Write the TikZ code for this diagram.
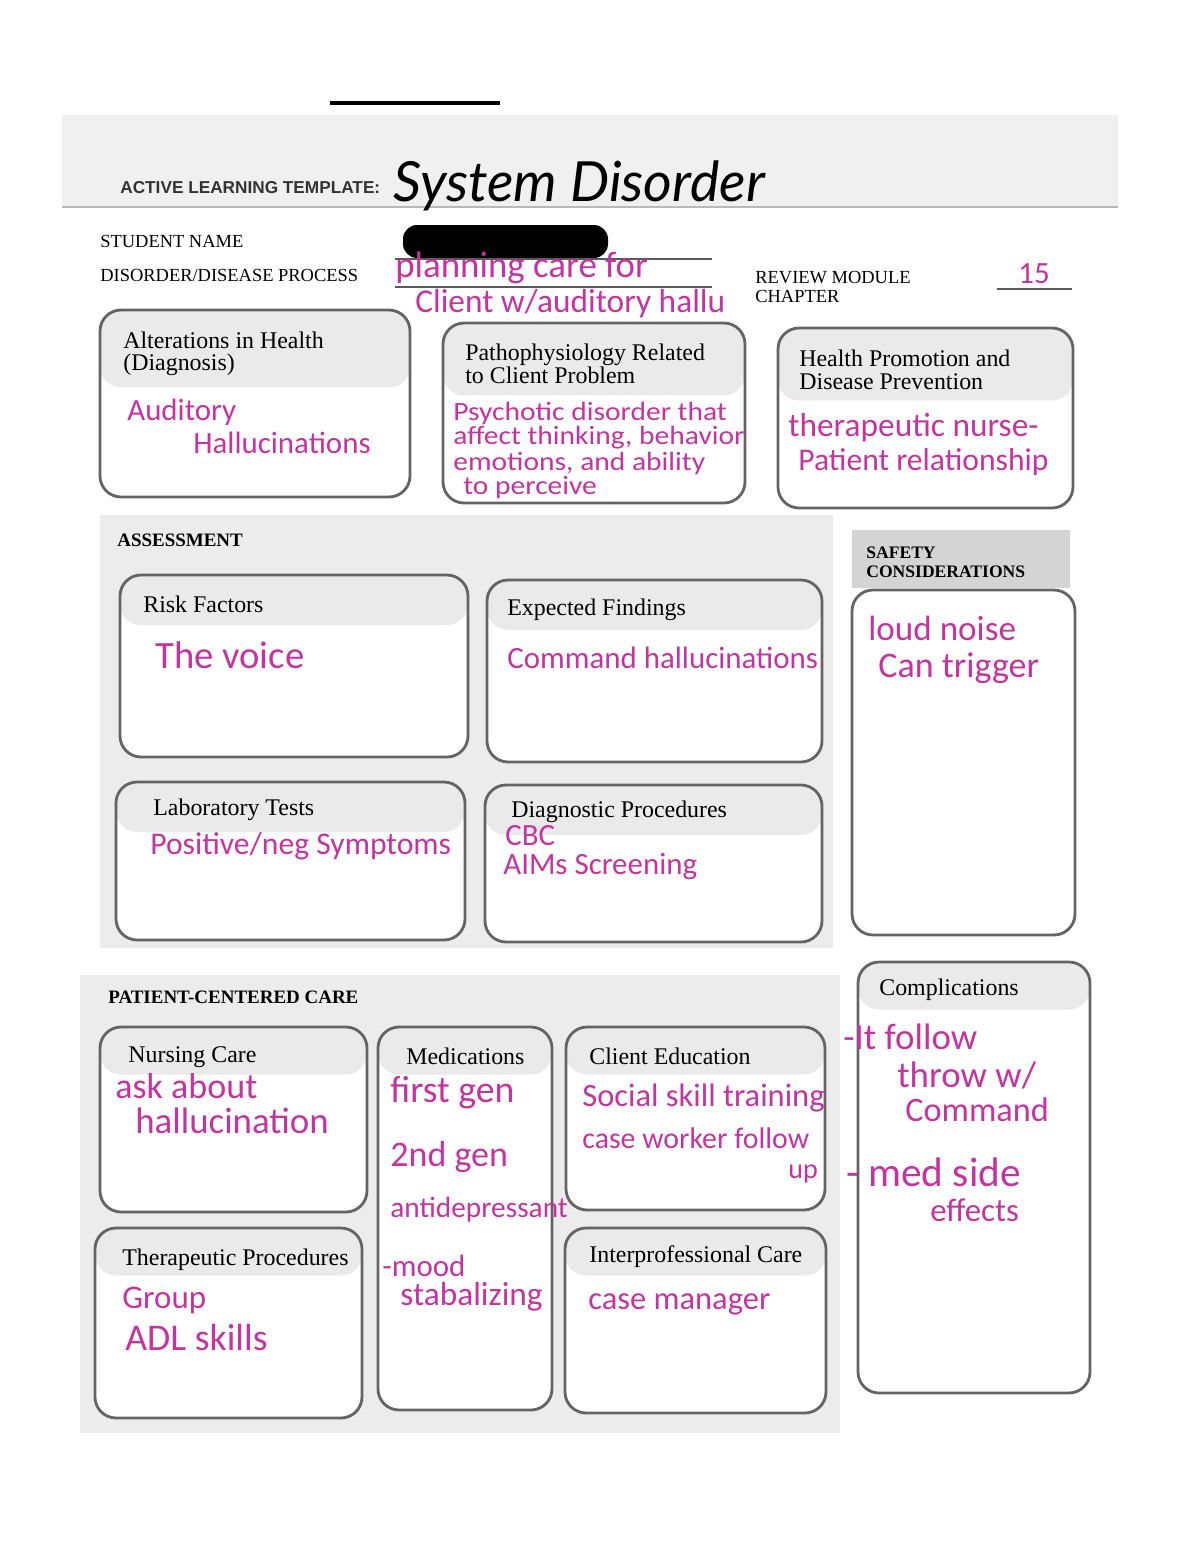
\documentclass[tikz,border=0pt]{standalone}
\usepackage{fontspec}
\usepackage{graphicx}
\usepackage{xcolor}
\usepackage{tikz}
\usetikzlibrary{fit, positioning}
\setmainfont{Liberation Serif}
\newfontfamily\headfont{Liberation Sans}
\newfontfamily\titlefont{Lato}
\newfontfamily\handfont{Carlito}
\definecolor{ink}{RGB}{196,52,160}
\definecolor{boxgray}{RGB}{100,100,100}
\definecolor{hdrgray}{RGB}{234,234,234}
\definecolor{panelgray}{RGB}{236,236,236}
\newcommand{\hw}[2][17.6]{{\handfont\fontsize{#1}{#1}\selectfont\color{ink}#2}}

\begin{document}
\begin{tikzpicture}[
    x=0.02cm, y=-0.02cm,
    formbox/.style={draw=boxgray, line width=1.6pt, rounded corners=12pt, fill=white, inner sep=0pt},
    hdr/.style={path picture={\fill[hdrgray] (path picture bounding box.north west) rectangle ([yshift=-#1]path picture bounding box.north east);}},
    title/.style={anchor=west, inner sep=0pt, align=left, font=\fontsize{13.6}{12.8}\selectfont},
    label/.style={anchor=west, inner sep=0pt, align=left, font=\bfseries\fontsize{10.8}{12}\selectfont},
    field/.style={anchor=west, inner sep=0pt, font=\fontsize{10.5}{12}\selectfont},
    hand/.style={anchor=west, inner sep=0pt}
  ]
  \useasboundingbox (0,0) rectangle (1200,1553);
  \fill[white] (0,0) rectangle (1200,1553);

  % header band
  \draw[black, line width=2pt] (330,103) -- (500,103);
  \fill[gray!12] (62,115) rectangle (1118,207);
  \draw[gray!55, line width=1pt] (62,207) -- (1118,207);
  \node[anchor=west, inner sep=0pt, font=\headfont\bfseries\fontsize{9.8}{10}\selectfont, text=black!80] (alt) at (120,188) {ACTIVE LEARNING TEMPLATE:};
  \node[anchor=west, inner sep=0pt, font=\titlefont\itshape\fontsize{31.5}{32}\selectfont] (sysdis) at (393,186) {System Disorder};

  % student fields
  \node[field] (sname) at (100,241) {STUDENT NAME};
  \node[field] (dproc) at (100,275) {DISORDER/DISEASE PROCESS};
  \fill[black, rounded corners=8pt] (403,225) rectangle (608,258);
  \draw[gray!70!black, line width=0.8pt] (395,259) -- (712,259);
  \draw[gray!70!black, line width=0.8pt] (395,287) -- (712,287);
  \node[hand] (proc1) at (395,268) {\hw[21]{planning care for}};
  \node[hand] (proc2) at (415,304) {\hw[19]{Client w/auditory hallu}};
  \node[field, align=left, font=\fontsize{10.5}{11}\selectfont] (rmod) at (755,287) {REVIEW MODULE\\CHAPTER};
  \draw[gray!70!black, line width=0.8pt] (997,289) -- (1072,289);
  \node[hand] (chap) at (1018,274) {\hw{15}};

  % top row
  \node[formbox, hdr=1.55cm, fit={(100,310) (410,497)}] (diag) {};
  \node[title] at (123,354) {Alterations in Health\\(Diagnosis)};
  \node[hand] at (127,412) {\hw{Auditory}};
  \node[hand] at (193,443) {\hw{Hallucinations}};

  \node[formbox, hdr=1.45cm, fit={(443,323) (745,503)}] (patho) {};
  \node[title] at (465,364) {Pathophysiology Related\\to Client Problem};
  \node[hand] at (453,413) {\scalebox{1.12}[1]{\hw[15]{Psychotic disorder that}}};
  \node[hand] at (453,438) {\scalebox{1.12}[1]{\hw[15]{affect thinking, behavior}}};
  \node[hand] at (453,463) {\scalebox{1.12}[1]{\hw[15]{emotions, and ability}}};
  \node[hand] at (463,488) {\scalebox{1.12}[1]{\hw[15]{to perceive}}};

  \node[formbox, hdr=1.45cm, fit={(778,328) (1073,508)}] (promo) {};
  \node[title] at (799,370) {Health Promotion and\\Disease Prevention};
  \node[hand] at (788,428) {\hw[19]{therapeutic nurse-}};
  \node[hand] at (798,462) {\hw[18]{Patient relationship}};

  % assessment
  \fill[panelgray] (100,515) rectangle (833,948);
  \node[label] (assess) at (117,540) {ASSESSMENT};

  \node[formbox, hdr=1cm, fit={(120,575) (468,757)}] (risk) {};
  \node[title] at (143,604) {Risk Factors};
  \node[hand] at (155,655) {\hw[22]{The voice}};

  \node[formbox, hdr=1cm, fit={(487,580) (822,762)}] (findings) {};
  \node[title] at (507,610) {Expected Findings};
  \node[hand] at (507,658) {\hw{Command hallucinations}};

  \node[formbox, hdr=1cm, fit={(116,782) (465,940)}] (labs) {};
  \node[title] at (153,810) {Laboratory Tests};
  \node[hand] at (150,846) {\hw[18]{Positive/neg Symptoms}};

  \node[formbox, hdr=1cm, fit={(485,785) (822,942)}] (dxproc) {};
  \node[title] at (511,812) {Diagnostic Procedures};
  \node[hand] at (505,836) {\hw{CBC}};
  \node[hand] at (503,867) {\hw{AIMs Screening}};

  % safety
  \fill[panelgray!90!black] (852,530) rectangle (1070,588);
  \node[label, font=\bfseries\fontsize{10}{11}\selectfont] (safety) at (866,562) {SAFETY\\CONSIDERATIONS};
  \node[formbox, fit={(852,590) (1075,935)}] (safebox) {};
  \node[hand] at (868,628) {\hw[20]{loud noise}};
  \node[hand] at (878,668) {\hw[20.5]{Can trigger}};

  % patient-centered care
  \fill[panelgray] (80,975) rectangle (840,1433);
  \node[label] (pcc) at (108,997) {PATIENT-CENTERED CARE};

  \node[formbox, hdr=0.95cm, fit={(100,1027) (367,1212)}] (nursing) {};
  \node[title] at (128,1057) {Nursing Care};
  \node[hand] at (115,1086) {\hw[20.5]{ask about}};
  \node[hand] at (135,1121) {\hw[21]{hallucination}};

  \node[formbox, hdr=0.95cm, fit={(378,1027) (552,1410)}] (meds) {};
  \node[title] at (406,1056) {Medications};
  \node[hand] at (390,1093) {\hw[21.5]{first gen}};
  \node[hand] at (390,1157) {\hw[20.5]{2nd gen}};
  \node[hand] at (390,1210) {\hw[16.7]{antidepressant}};
  \node[hand] at (382,1266) {\hw{-mood}};
  \node[hand] at (400,1297) {\hw[19]{stabalizing}};

  \node[formbox, hdr=0.95cm, fit={(566,1027) (825,1210)}] (educ) {};
  \node[title] at (589,1056) {Client Education};
  \node[hand] at (582,1098) {\hw[18.5]{Social skill training}};
  \node[hand] at (582,1138) {\hw[17]{case worker follow}};
  \node[hand] at (788,1174) {\hw[16]{up}};

  \node[formbox, hdr=0.95cm, fit={(565,1228) (826,1413)}] (interpro) {};
  \node[title] at (589,1257) {Interprofessional Care};
  \node[hand] at (588,1304) {\hw[18.5]{case manager}};

  \node[formbox, hdr=0.95cm, fit={(95,1228) (362,1418)}] (thera) {};
  \node[title] at (122,1260) {Therapeutic Procedures};
  \node[hand] at (122,1300) {\hw[18.8]{Group}};
  \node[hand] at (125,1338) {\hw[21.5]{ADL skills}};

  % complications
  \node[formbox, hdr=0.95cm, fit={(858,962) (1090,1393)}] (compl) {};
  \node[title] at (879,990) {Complications};
  \node[hand] at (843,1037) {\hw[21]{-It follow}};
  \node[hand] at (897,1075) {\hw[21]{throw w/}};
  \node[hand] at (905,1110) {\hw[19.5]{Command}};
  \node[hand] at (846,1172) {\hw[23.5]{- med side}};
  \node[hand] at (930,1210) {\hw[18.7]{effects}};
\end{tikzpicture}
\end{document}
